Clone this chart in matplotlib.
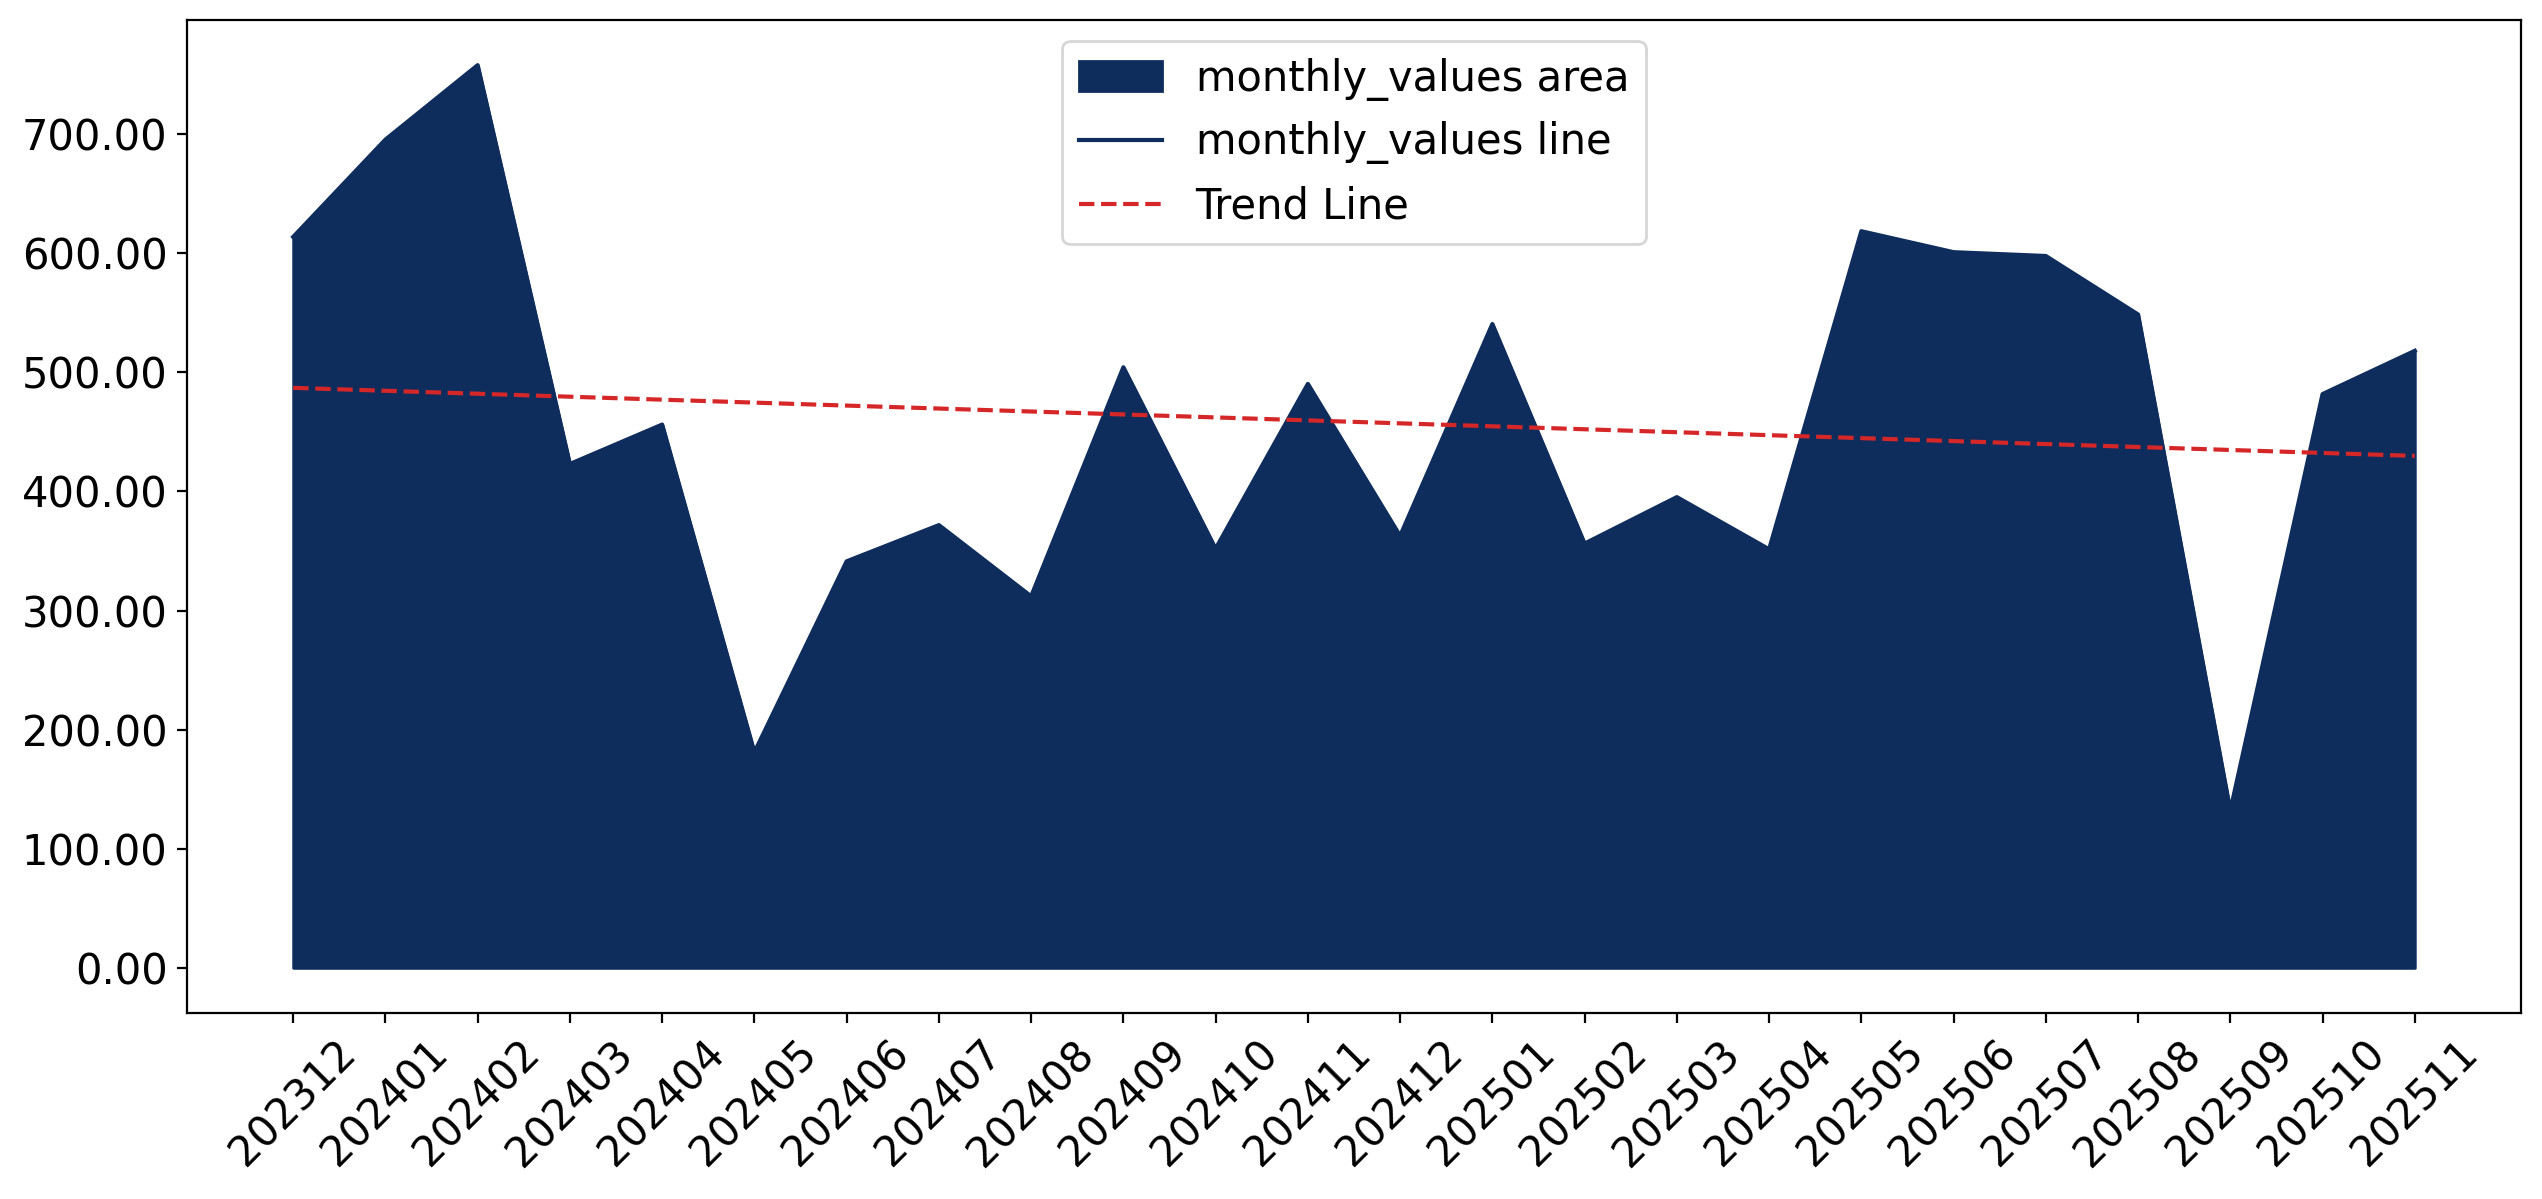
import numpy as np
import matplotlib
matplotlib.use("Agg")
import matplotlib.pyplot as plt
from matplotlib.ticker import FormatStrFormatter

months = [
    "202312", "202401", "202402", "202403", "202404", "202405", "202406",
    "202407", "202408", "202409", "202410", "202411", "202412", "202501",
    "202502", "202503", "202504", "202505", "202506", "202507", "202508",
    "202509", "202510", "202511",
]
monthly_values = [
    613.6, 695.3, 757.8, 423.0, 456.1, 181.0, 341.3, 371.7, 311.9, 504.2,
    351.9, 490.2, 362.6, 540.5, 356.2, 395.2, 351.4, 618.4, 600.8, 597.6,
    548.5, 132.0, 481.7, 518.0,
]

navy = "#0e2d5c"

x = np.arange(len(months))
y = np.array(monthly_values)

fig = plt.figure(figsize=(2542 / 200, 1199 / 200), dpi=200)
ax = fig.add_axes([0.0736, 0.1551, 0.9181, 0.8282])

ax.fill_between(x, y, color=navy, label="monthly_values area")
ax.plot(x, y, color=navy, linewidth=1.5, label="monthly_values line")

# linear trend over the monthly values
slope, intercept = np.polyfit(x, y, 1)
ax.plot(x, slope * x + intercept, color="#d62728", linestyle="--",
        linewidth=1.5, label="Trend Line")

ax.set_xticks(x)
ax.set_xticklabels(months, rotation=45, fontsize=15)
ax.tick_params(axis="y", labelsize=15)
ax.yaxis.set_major_formatter(FormatStrFormatter("%.2f"))
ax.legend(loc="upper center", fontsize=15)

fig.savefig("out.png", dpi=200)
